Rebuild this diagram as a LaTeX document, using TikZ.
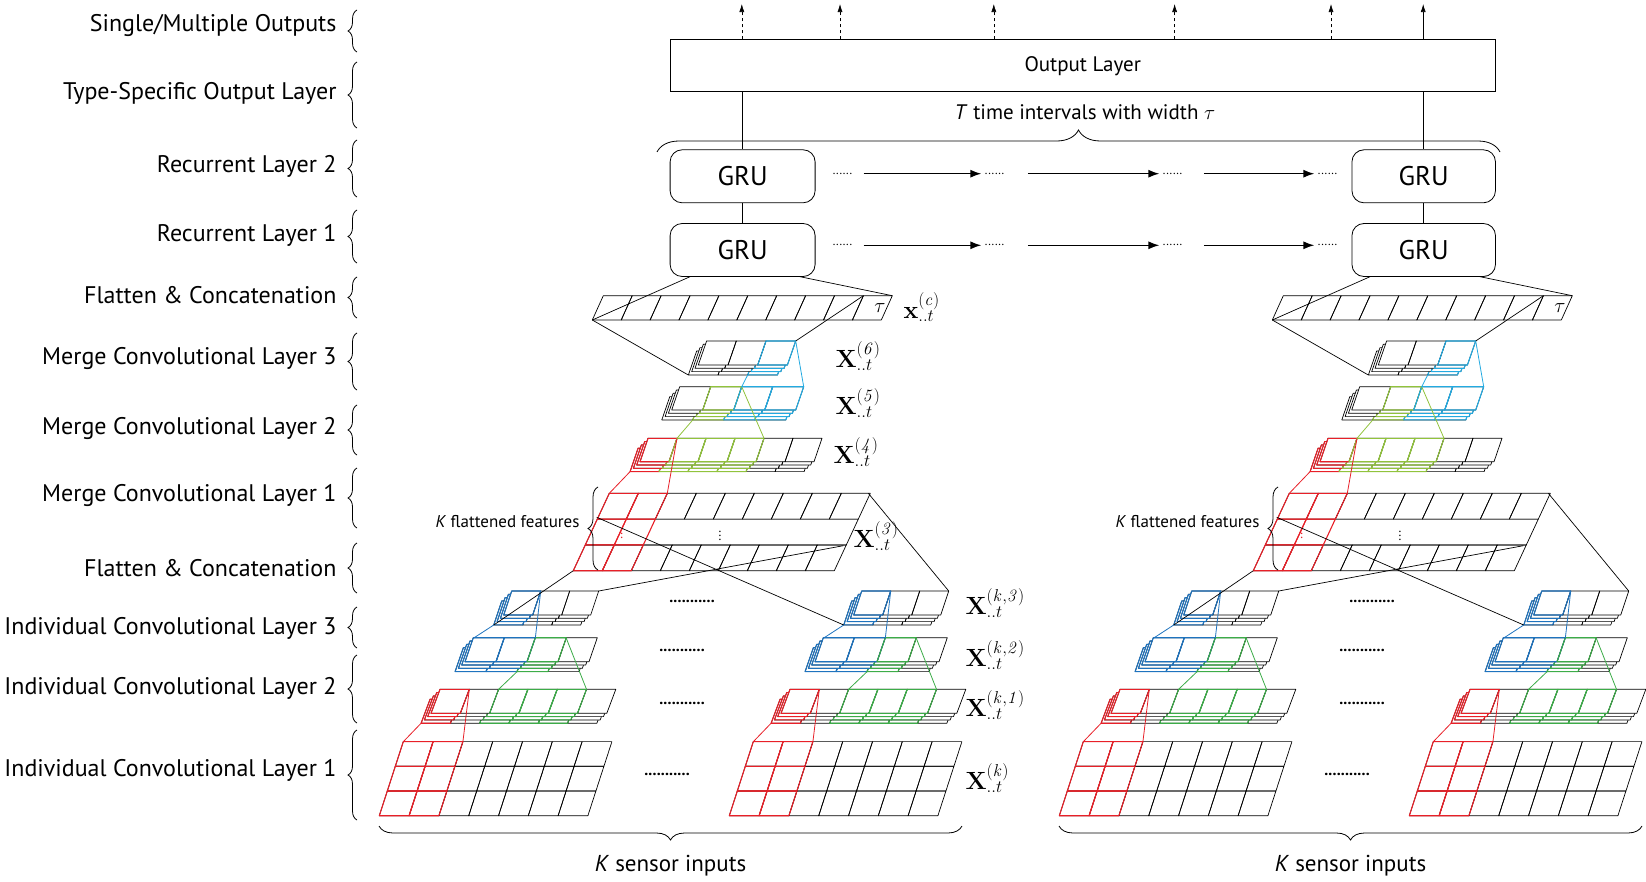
\documentclass[tikz,border=0pt]{standalone}
\usepackage[no-math]{fontspec}
\setmainfont{PT Sans}
\usetikzlibrary{arrows.meta,decorations.pathreplacing}
\definecolor{cred}{RGB}{232,32,40}
\definecolor{iblue}{RGB}{30,115,190}
\definecolor{igreen}{RGB}{60,172,72}
\definecolor{mcyan}{RGB}{35,170,225}
\definecolor{mgreen}{RGB}{145,195,60}
\newcommand\gcell[7]{\draw[#6,line width=#7,line join=round] (#1,#2) -- ++(#3,0) -- ++(#5,-#4) -- ++(-#3,0) -- cycle;}
% x y n w h s copies list(a/b/col)
\newcommand\stk[8]{%
 \foreach \c in {#7,...,1}{%
  \pgfmathsetmacro\ox{#1-3.3*(\c-1)}\pgfmathsetmacro\oy{#2+3.3*(\c-1)}%
  \fill[white] (\ox,\oy) -- ++({#3*#4},0) -- ++(#6,-#5) -- ++({-#3*#4},0) -- cycle;
  \foreach \i in {1,...,#3}{\pgfmathsetmacro\cx{\ox+(\i-1)*#4}\gcell{\cx}{\oy}{#4}{#5}{#6}{black}{0.7pt}}
  \foreach \a/\b/\col in {#8}{\foreach \i in {\a,...,\b}{\pgfmathsetmacro\cx{\ox+(\i-1)*#4}\gcell{\cx}{\oy}{#4}{#5}{#6}{\col}{1.1pt}}}
 }}
% x y cols rows w h s  (red first two columns)
\newcommand\grd[7]{%
 \foreach \j in {1,...,#4}{\foreach \i in {1,...,#3}{%
   \pgfmathsetmacro\cx{#1+(\i-1)*#5+(\j-1)*#7}\pgfmathsetmacro\cy{#2-(\j-1)*#6}%
   \gcell{\cx}{\cy}{#5}{#6}{#7}{black}{0.7pt}}}%
 \foreach \j in {1,...,#4}{\foreach \i in {1,2}{%
   \pgfmathsetmacro\cx{#1+(\i-1)*#5+(\j-1)*#7}\pgfmathsetmacro\cy{#2-(\j-1)*#6}%
   \gcell{\cx}{\cy}{#5}{#6}{#7}{cred}{1.1pt}}}}
\newcommand\sensorbody{%
 \grd{379.3}{815.7}{7}{3}{29.8}{24.7}{8}
 \stk{431}{713.3}{6}{29.3}{24}{9}{4}{1/1/cred,3/5/igreen}
 \stk{465}{661.7}{4}{31}{24}{8.3}{4}{1/2/iblue,3/3/igreen}
 \stk{503.7}{615}{3}{29}{24}{8}{4}{1/1/iblue}
 \coordinate (ga) at (403.3,741.7); \coordinate (gb) at (462.9,741.7);
 \coordinate (r1a) at (421,723.3); \coordinate (r1b) at (469.3,689.3);
 \draw[cred,line width=0.8pt] (ga) -- (r1a) (gb) -- (r1b);
 \coordinate (g1a) at (498.6,689.3); \coordinate (g1b) at (586.5,689.3);
 \coordinate (g2a) at (517,671.7); \coordinate (g2b) at (566.3,638.3);
 \draw[igreen,line width=0.8pt] (g1a) -- (g2a) (g1b) -- (g2b);
 \coordinate (b2a) at (473.3,638.3); \coordinate (b2b) at (535.3,638.3);
 \coordinate (b3a) at (493.7,625); \coordinate (b3b) at (540.7,591);
 \draw[iblue,line width=0.8pt] (b2a) -- (b3a) (b2b) -- (b3b);
}
\newcommand\panelbody{%
 \sensorbody
 \begin{scope}[xshift=350pt]\sensorbody\end{scope}
 % X3 block
 \foreach \j in {1,3}{\foreach \i in {1,...,9}{%
   \pgfmathsetmacro\cx{573.3+(\i-1)*29+(\j-1)*12}\pgfmathsetmacro\cy{570.7-(\j-1)*25.8}%
   \gcell{\cx}{\cy}{29}{25.8}{12}{black}{0.7pt}}}
 \gcell{585.3}{544.9}{261}{25.8}{12}{black}{0.7pt}
 \foreach \j in {1,2,3}{\foreach \i in {1,2}{%
   \pgfmathsetmacro\cx{573.3+(\i-1)*29+(\j-1)*12}\pgfmathsetmacro\cy{570.7-(\j-1)*25.8}%
   \gcell{\cx}{\cy}{29}{25.8}{12}{cred}{1.1pt}}}
 \node[text=cred,font=\fontsize{13}{13}\selectfont] (rd) at (621.7,531) {$\vdots$};
 \node[font=\fontsize{13}{13}\selectfont] (bd) at (720,533) {$\vdots$};
 % X3 to sensors
 \coordinate (x3bl) at (573.3,570.7); \coordinate (x3ml) at (596.7,517.3);
 \coordinate (x3tr) at (868.3,493.3); \coordinate (x3r3) at (843.3,545.7);
 \draw[line width=0.7pt] (x3bl) -- (493.7,625) (x3r3) -- (598.7,591)
   (x3ml) -- (843.7,625) (x3tr) -- (948.7,591);
 % merge stacks
 \stk{640}{461.7}{6}{29}{23.4}{8}{4}{1/1/cred,2/4/mgreen}
 \stk{671.7}{410}{4}{31}{23.3}{8}{4}{2/2/mgreen,3/4/mcyan}
 \stk{698.3}{365}{3}{29.7}{24}{8.3}{4}{3/3/mcyan}
 \draw[cred,line width=0.8pt] (609.3,493.3) -- (630,471.7) (667.3,493.3) -- (677,438.3);
 \draw[mgreen,line width=0.8pt] (677,438.3) -- (692.7,420) (764,438.3) -- (741.7,386.7);
 \draw[mcyan,line width=0.8pt] (741.7,386.7) -- (747.7,375) (803.7,386.7) -- (795.7,341);
 % concatenation strip
 \fill[white] (592.3,320) -- ++(289,0) -- ++(11,-24.3) -- ++(-289,0) -- cycle;
 \foreach \i in {1,...,10}{\pgfmathsetmacro\cx{592.3+(\i-1)*28.9}\gcell{\cx}{320}{28.9}{24.3}{11}{black}{0.7pt}}
 \node[font=\fontsize{20}{20}\selectfont] (tau) at (880,308) {$\tau$};
 \draw[line width=0.7pt] (592.3,320) -- (688.3,375) (863.4,295.7) -- (795.7,341)
   (690,276.7) -- (592.3,320) (800,276.7) -- (892.3,295.7);
 % braces and texts
 \draw[decorate,decoration={brace,amplitude=10pt},line width=0.8pt] (598,570) -- (598,487);
 \node[anchor=east,font=\fontsize{17}{17}\selectfont] (kff) at (583,522) {\textit{K} flattened features};
 \draw[decorate,decoration={brace,amplitude=14pt,aspect=0.5},line width=0.8pt] (962,826) -- (379,826);
 \node[font=\fontsize{23}{23}\selectfont] (ksi) at (670.5,866) {\textit{K} sensor inputs};
 \foreach \yy/\xx in {605/692,654/682,707/682,778/667}{\node[font=\bfseries\fontsize{16}{16}\selectfont] at (\xx,\yy-4) {...........};}
}
\begin{document}
\begin{tikzpicture}[x=1pt,y=-1pt,
  lab/.style={anchor=east,font=\fontsize{24}{24}\selectfont},
  lbr/.style={decorate,decoration={brace,amplitude=9pt},line width=0.8pt},
  gru/.style={draw,rounded corners=12pt,minimum width=145pt,minimum height=53pt,font=\fontsize{27}{27}\selectfont,line width=0.8pt},
  xl/.style={anchor=west,font=\fontsize{26}{26}\selectfont},
  arr/.style={-{Latex[length=11pt,width=8pt]},line width=1.5pt},
  dts/.style={font=\fontsize{12}{12}\selectfont}]
\useasboundingbox (0,0) rectangle (1646,881);
% left labels
\foreach \t/\yc/\ya/\yb [count=\n] in {
 Single\slash Multiple Outputs/25/10/52,
 Type-Specific Output Layer/93/62/128,
 Recurrent Layer 2/166/140/197,
 Recurrent Layer 1/235/210/263,
 Flatten \& Concatenation/295/277/318,
 Merge Convolutional Layer 3/358/333/390,
 Merge Convolutional Layer 2/428/405/455,
 Merge Convolutional Layer 1/495/468/528,
 Flatten \& Concatenation/568/543/593,
 Individual Convolutional Layer 3/628/607/648,
 Individual Convolutional Layer 2/688/655/723,
 Individual Convolutional Layer 1/770/730/820}{
 \node[lab] (lab\n) at (340,\yc) {\t};
 \draw[lbr] (357,\yb) -- (357,\ya);
}
% output layer
\node[draw,line width=0.8pt,minimum width=825pt,minimum height=52pt,font=\fontsize{21}{21}\selectfont] (out) at (1082.7,65.8) {Output Layer};
\foreach \xx [count=\n] in {741.8,840,993.8,1174.6,1331}{
 \coordinate (o\n) at (\xx,4);
 \draw[dashed,-{Latex[length=8pt,width=5pt]},line width=0.6pt] (out.north -| o\n) -- (o\n);}
\coordinate (o6) at (1423.2,4);
\draw[-{Latex[length=8pt,width=5pt]},line width=0.7pt] (out.north -| o6) -- (o6);
% GRUs
\node[gru] (g2l) at (742.6,176.3) {GRU};
\node[gru] (g1l) at (742.6,250) {GRU};
\node[gru,minimum width=143.5pt] (g2r) at (1423.7,176.3) {GRU};
\node[gru,minimum width=143.5pt] (g1r) at (1423.7,250) {GRU};
\draw[line width=0.7pt] (out.south -| g2l) -- (g2l) (g2l) -- (g1l) (out.south -| g2r) -- (g2r) (g2r) -- (g1r);
\node[font=\fontsize{21}{21}\selectfont] (tint) at (1085,112) {\textit{T} time intervals with width $\tau$};
\draw[decorate,decoration={brace,amplitude=22pt,aspect=0.5},line width=0.8pt] (657,152) -- (1500,152);
\foreach \yy/\k in {176.7/a,248.3/b}{
 \node[dts] (d1\k) at (842.5,\yy-3) {......};
 \node[dts] (d2\k) at (994.6,\yy-3) {......};
 \node[dts] (d3\k) at (1172.6,\yy-3) {......};
 \node[dts] (d4\k) at (1327.6,\yy-3) {......};
 \draw[arr] (d1\k.east) ++(8,0) -- (d2\k.west);
 \draw[arr] (d2\k.east) ++(20,0) -- (d3\k.west);
 \draw[arr] (d3\k.east) ++(18,0) -- (d4\k.west);
}
% panels
\panelbody
\begin{scope}[xshift=680pt]\panelbody\end{scope}
% layer labels
\node[xl] (xc) at (900,307) {$\mathbf{x}^{\mathit{(c)}}_{..t}$};
\node[xl] (x6) at (832,356) {$\mathbf{X}^{\mathit{(6)}}_{..t}$};
\node[xl] (x5) at (832,403) {$\mathbf{X}^{\mathit{(5)}}_{..t}$};
\node[xl] (x4) at (830,452) {$\mathbf{X}^{\mathit{(4)}}_{..t}$};
\node[xl] (x3) at (850,536) {$\mathbf{X}^{\mathit{(3)}}_{..t}$};
\node[xl] (xk3) at (962,603) {$\mathbf{X}^{\mathit{(k,3)}}_{..t}$};
\node[xl] (xk2) at (962,655) {$\mathbf{X}^{\mathit{(k,2)}}_{..t}$};
\node[xl] (xk1) at (962,705) {$\mathbf{X}^{\mathit{(k,1)}}_{..t}$};
\node[xl] (xk) at (962,778) {$\mathbf{X}^{\mathit{(k)}}_{..t}$};
\end{tikzpicture}
\end{document}
